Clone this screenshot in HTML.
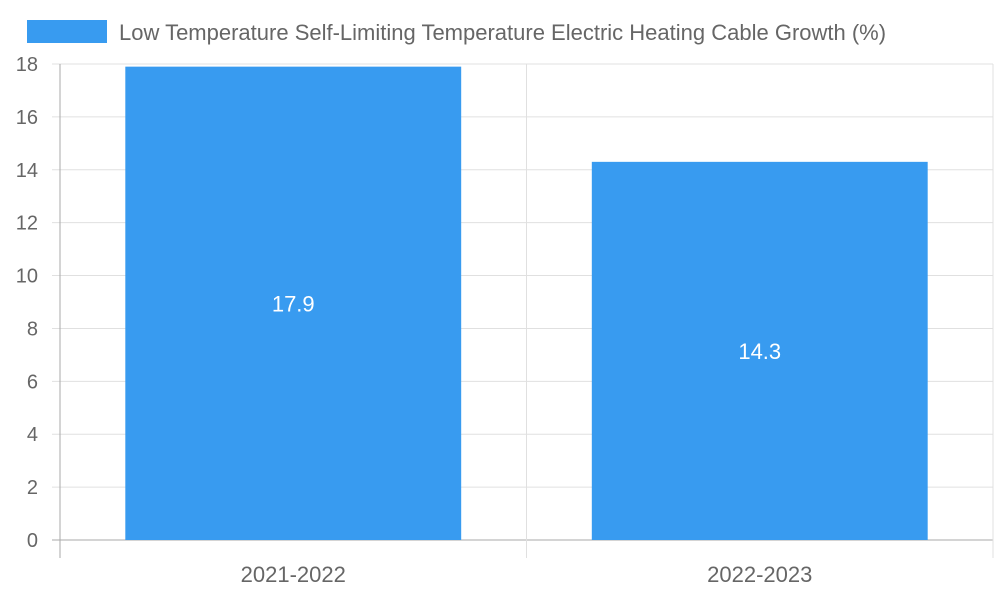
<!DOCTYPE html>
<html><head><meta charset="utf-8"><style>
body{margin:0;background:#fff;}
svg text{font-family:"Liberation Sans",sans-serif;}
</style></head><body>
<svg id="chart" width="1000" height="600" xmlns="http://www.w3.org/2000/svg">
<g>
<rect x="27" y="20" width="80" height="23" fill="#389bf0"/>
<text x="119" y="40" font-size="22" fill="#666">Low Temperature Self-Limiting Temperature Electric Heating Cable Growth (%)</text>
</g>
<g id="grid"></g><g id="bars"></g><g id="labels"></g>
</svg>
<script>
const categories=["2021-2022","2022-2023"];
const values=[17.9,14.3];
const yTicks=[0,2,4,6,8,10,12,14,16,18];
const NS="http://www.w3.org/2000/svg";
const L=60,R=993,T=64,B=540,yMax=18;
const y=v=>B-(v/yMax)*(B-T);
const bw=(R-L)/categories.length;
const x=i=>L+bw*(i+0.5);
function mk(tag,attrs,parent,txt){const e=document.createElementNS(NS,tag);for(const k in attrs)e.setAttribute(k,attrs[k]);if(txt!==undefined)e.textContent=txt;parent.appendChild(e);return e;}
const grid=document.getElementById('grid'),bars=document.getElementById('bars'),labels=document.getElementById('labels');
yTicks.forEach(t=>{
 const ln=mk('line',{x1:L-8,x2:R,y1:y(t),y2:y(t),stroke:t===0?'#aaa':'#e0e0e0','stroke-width':1},grid);
 
 
 const tx=mk('text',{x:L-22,y:y(t)+7,'text-anchor':'end','font-size':20,fill:'#666'},grid,String(t));
 
 
});
for(let i=0;i<=categories.length;i++){
 const xv=L+bw*i;
 const ln=mk('line',{x1:xv,x2:xv,y1:T,y2:B+18,stroke:i===0?'#aaa':'#e0e0e0','stroke-width':1},grid);
 
 
}
categories.forEach((c,i)=>{
 const w=bw*0.72;
 const r=mk('rect',{x:x(i)-w/2,y:y(values[i]),width:w,height:B-y(values[i]),fill:'#389bf0'},bars);
 
 
 const v=mk('text',{x:x(i),y:(y(values[i])+B)/2+8,'text-anchor':'middle','font-size':22,fill:'#fff'},labels,values[i].toFixed(1));
 
 
 const t=mk('text',{x:x(i),y:582,'text-anchor':'middle','font-size':22,fill:'#666'},labels,c);
 
 
});
</script>
</body></html>
